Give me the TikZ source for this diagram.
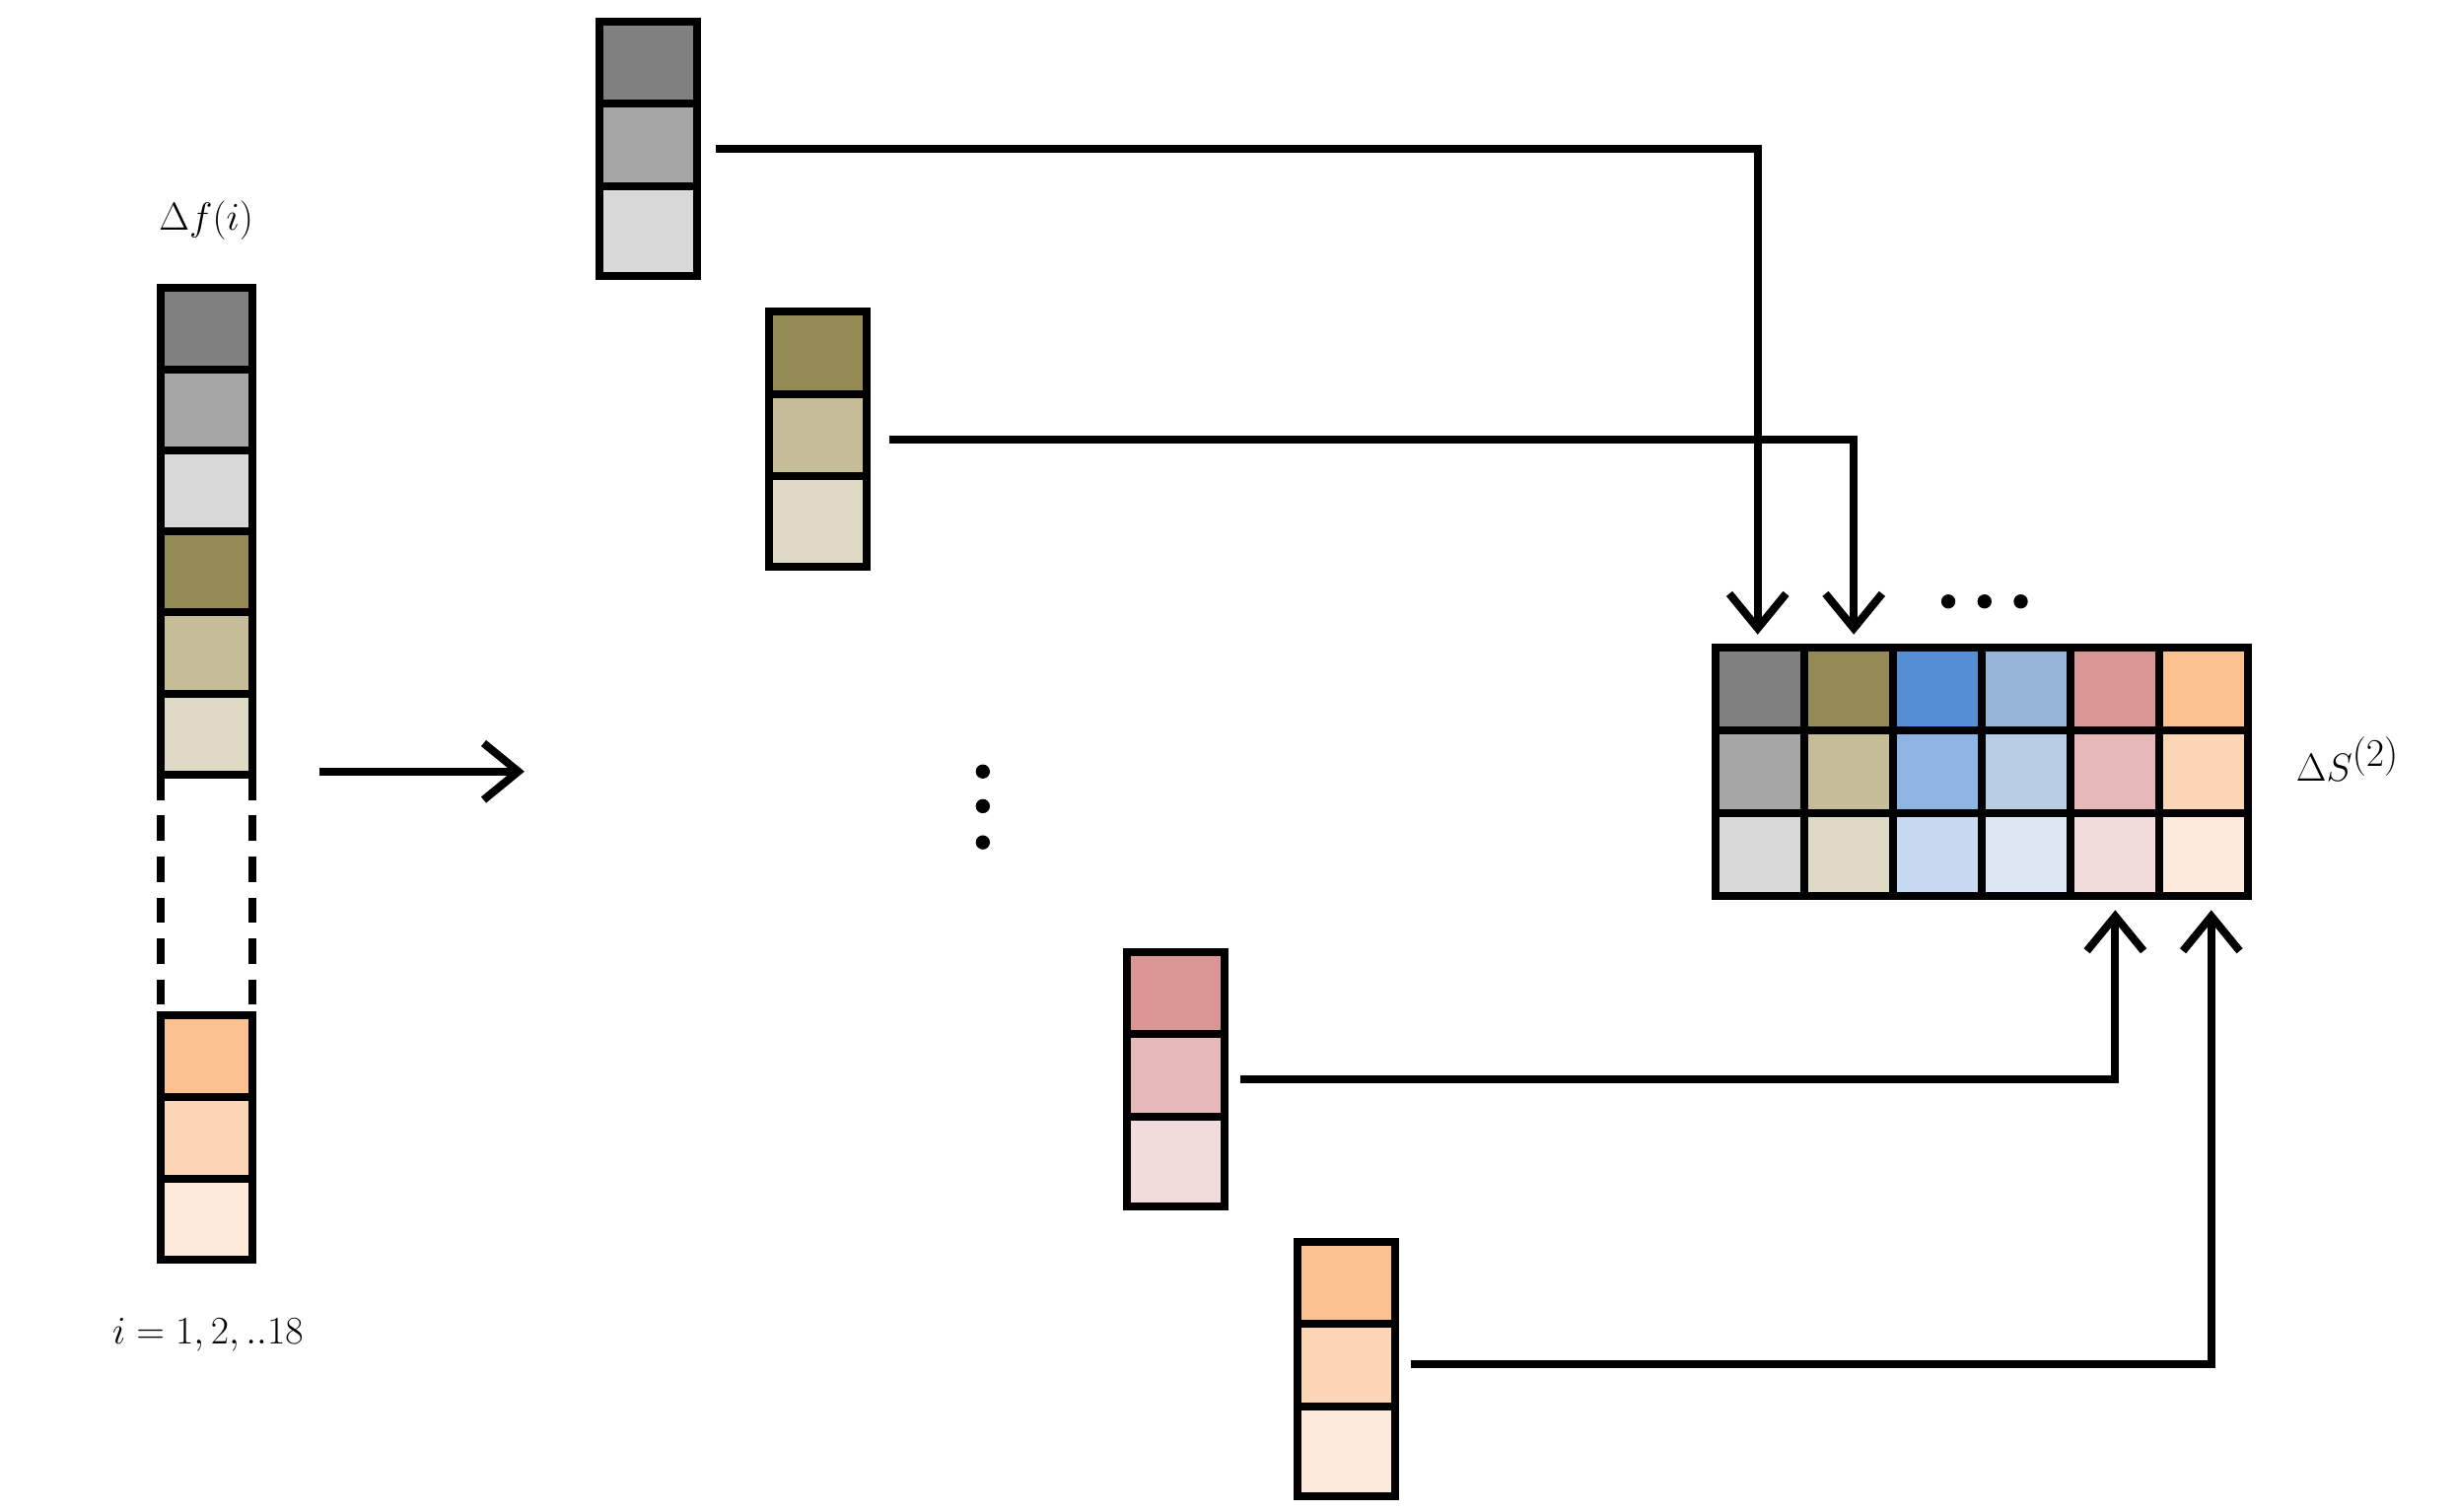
\documentclass[tikz,border=0pt]{standalone}
\usetikzlibrary{arrows.meta}
\definecolor{ga}{HTML}{808080}\definecolor{gb}{HTML}{A6A6A6}\definecolor{gc}{HTML}{D9D9D9}
\definecolor{oa}{HTML}{948A54}\definecolor{ob}{HTML}{C4BD97}\definecolor{oc}{HTML}{DDD9C4}
\definecolor{ba}{HTML}{558ED5}\definecolor{bb}{HTML}{8EB4E3}\definecolor{bc}{HTML}{C6D9F1}
\definecolor{la}{HTML}{95B3D7}\definecolor{lb}{HTML}{B9CDE5}\definecolor{lc}{HTML}{DCE6F2}
\definecolor{ra}{HTML}{D99694}\definecolor{rb}{HTML}{E6B9B8}\definecolor{rc}{HTML}{F2DCDB}
\definecolor{pa}{HTML}{FAC090}\definecolor{pb}{HTML}{FCD5B5}\definecolor{pc}{HTML}{FDEADA}
\begin{document}
\begin{tikzpicture}[x=1pt,y=-1pt,line width=5pt,
  cell/.style={draw=black},
  conn/.style={line width=5pt,-{Straight Barb[length=22pt,width=36pt,line width=5pt]}},
  lbl/.style={font=\fontsize{40}{48}\selectfont}]
\useasboundingbox (0,0) rectangle (1560,960);
% left column
\foreach \c [count=\k from 0] in {ga,gb,gc,oa,ob,oc}
  \draw[cell,fill=\c] (102,183+51.5*\k) rectangle (160,183+51.5*\k+51.5);
\foreach \c [count=\k from 0] in {pa,pb,pc}
  \draw[cell,fill=\c] (102,645+51.7*\k) rectangle (160,645+51.7*\k+51.7);
\draw[dashed,dash pattern=on 16pt off 10pt] (102,492) -- (102,645) (160,492) -- (160,645);
\node[lbl] (lf) at (131,140) {$\Delta f(i)$};
\node[lbl] (li) at (132,848) {$i=1,2,..18$};
\coordinate (m1) at (203,490); \coordinate (m2) at (333,490);
\draw[line width=5pt,-{Straight Barb[length=22pt,width=36pt,line width=5pt]}] (m1) -- (m2);
% small columns
\newcommand\smallcol[5]{%
  \node[minimum width=57pt,minimum height=157pt,inner sep=0pt] (#1) at (#2,#3) {};
  \draw[cell,fill=#4a] (#1.north west) rectangle ([yshift=-52.3]#1.north east);
  \draw[cell,fill=#4b] ([yshift=-52.3]#1.north west) rectangle ([yshift=-104.6]#1.north east);
  \draw[cell,fill=#4c] ([yshift=-104.6]#1.north west) rectangle (#1.south east);}
\smallcol{A}{411.5}{94.5}{g}{}
\smallcol{B}{519.5}{279}{o}{}
\smallcol{C}{746.5}{685.5}{r}{}
\smallcol{D}{854.5}{869.5}{p}{}
% matrix
\node[minimum width=338pt,minimum height=158pt,inner sep=0pt] (M) at (1258,490) {};
\foreach \col [count=\i from 0] in {g,o,b,l,r,p}
  \foreach \r [count=\j from 0] in {a,b,c}
    \draw[cell,fill=\col\r] (1089+56.33*\i,411+52.67*\j) rectangle (1089+56.33*\i+56.33,411+52.67*\j+52.67);
\node[lbl,anchor=west] (lS) at (1452,482) {$\Delta S^{(2)}$};
% dots
\foreach \y in {490,512,535} \fill (624,\y) circle (4.5pt);
\foreach \x in {1237,1260,1283} \fill (\x,382) circle (4.5pt);
% connectors
\coordinate (t1) at (1116,403); \coordinate (t2) at (1177,403);
\coordinate (t3) at (1343,578); \coordinate (t4) at (1404,578);
\draw[conn] ([xshift=12pt]A.east) -| (t1);
\draw[conn] ([xshift=14pt]B.east) -| (t2);
\draw[conn] ([xshift=10pt]C.east) -| (t3);
\draw[conn] ([xshift=10pt,yshift=3pt]D.east) -| (t4);
\end{tikzpicture}
\end{document}
